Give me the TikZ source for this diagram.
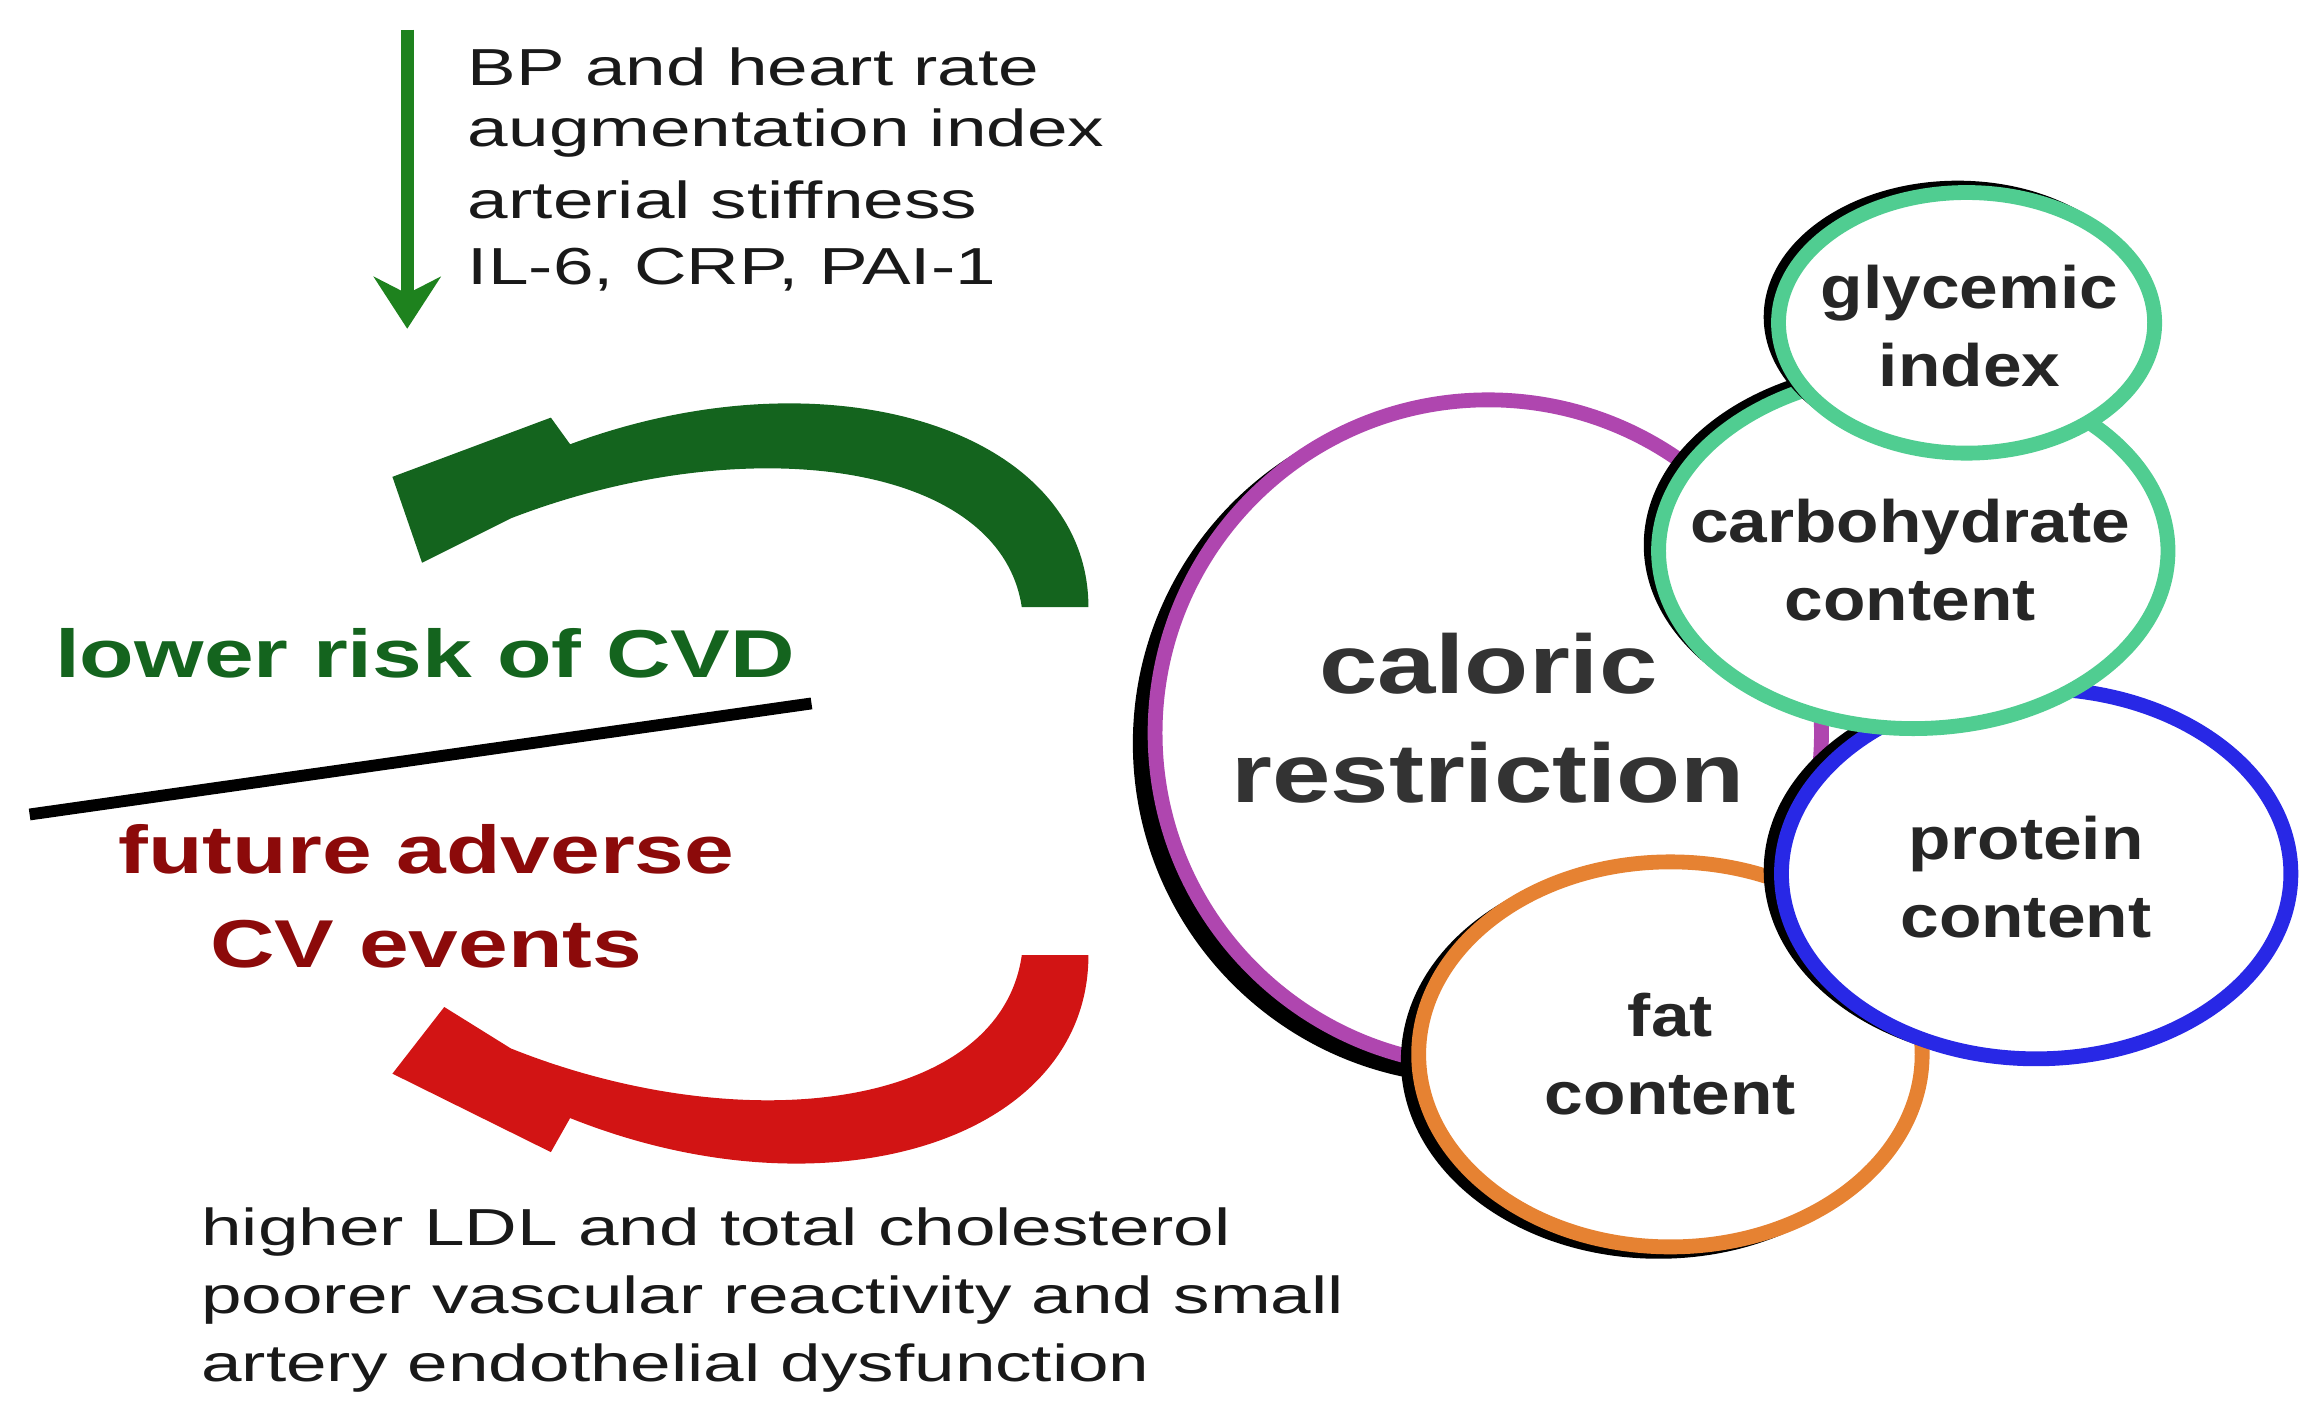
\documentclass[tikz,border=0pt]{standalone}
\usepackage{fontspec}
\setmainfont{Liberation Sans}
\usetikzlibrary{arrows.meta}
\definecolor{dgreen}{RGB}{20,100,30}
\definecolor{arrgreen}{RGB}{30,130,30}
\definecolor{dred}{RGB}{140,10,10}
\definecolor{rred}{RGB}{210,20,20}
\definecolor{cpurple}{RGB}{175,70,175}
\definecolor{cgreen}{RGB}{80,205,145}
\definecolor{cblue}{RGB}{40,40,230}
\definecolor{corange}{RGB}{230,130,50}
\begin{document}
\begin{tikzpicture}[x=0.01cm,y=-0.01cm,
  lbl/.style={font=\fontsize{10}{14}\selectfont,anchor=west,inner sep=0,transform shape,xscale=1.4,text=black!90},
  clbl/.style={font=\bfseries\fontsize{11.5}{15}\selectfont,align=center,text=black!85,transform shape,xscale=1.16},
  ring/.style={fill=white,line width=0.1cm}]
\useasboundingbox (0,0) rectangle (1568,960);
% green down arrow
\coordinate (a1) at (275,20); \coordinate (a2) at (275,222);
\draw[arrgreen,line width=0.09cm,-{Stealth[length=0.35cm,width=0.45cm]}] (a1) -- (a2);
\node[lbl] (t1) at (315,45) {BP and heart rate};
\node[lbl] (t2) at (315,90) {augmentation index};
\node[lbl] (t3) at (315,135) {arterial stiffness};
\node[lbl] (t4) at (315,182) {IL-6, CRP, PAI-1};
% green curved arrow
\fill[dgreen] (735,410) .. controls (735,290) and (560,235) .. (385,300) -- (372,282) -- (265,322) -- (285,380) -- (345,350) .. controls (500,290) and (675,310) .. (690,410) -- cycle;
% red curved arrow
\fill[rred] (735,645) .. controls (735,770) and (560,825) .. (385,755) -- (372,778) -- (265,725) -- (300,680) -- (345,708) .. controls (500,770) and (675,750) .. (690,645) -- cycle;
\node[font=\bfseries\fontsize{13}{16}\selectfont,text=dgreen,transform shape,xscale=1.32] (risk) at (287,441) {lower risk of CVD};
\coordinate (l1) at (20,550); \coordinate (l2) at (548,475);
\draw[line width=0.08cm] (l1) -- (l2);
\node[font=\bfseries\fontsize{13}{18}\selectfont,text=dred,align=center,transform shape,xscale=1.32] (fut) at (288,605) {future adverse\\CV events};
\node[lbl] (b1) at (135,832) {higher LDL and total cholesterol};
\node[lbl] (b2) at (135,878) {poorer vascular reactivity and small};
\node[lbl] (b3) at (135,924) {artery endothelial dysfunction};
% circles
\fill (995,502) circle (230);
\draw[ring,draw=cpurple] (1005,495) circle (225);
\node[font=\bfseries\fontsize{16}{21}\selectfont,align=center,text=black!80,transform shape,xscale=1.26] (cal) at (1005,485) {caloric\\restriction};
\fill (1120,716) ellipse (174 and 134);
\draw[ring,draw=corange] (1128,712) ellipse (170 and 130);
\node[clbl] (fat) at (1128,712) {fat\\content};
\fill (1367,588) ellipse (176 and 129);
\draw[ring,draw=cblue] (1375,590) ellipse (172 and 125);
\node[clbl] (pro) at (1368,592) {protein\\content};
\fill (1286,368) ellipse (176 and 124);
\draw[ring,draw=cgreen] (1292,372) ellipse (172 and 120);
\node[clbl] (carb) at (1290,378) {carbohydrate\\content};
\fill (1322,214) ellipse (131 and 92);
\draw[ring,draw=cgreen] (1328,218) ellipse (127 and 88);
\node[clbl] (gly) at (1330,220) {glycemic\\index};
\end{tikzpicture}
\end{document}
